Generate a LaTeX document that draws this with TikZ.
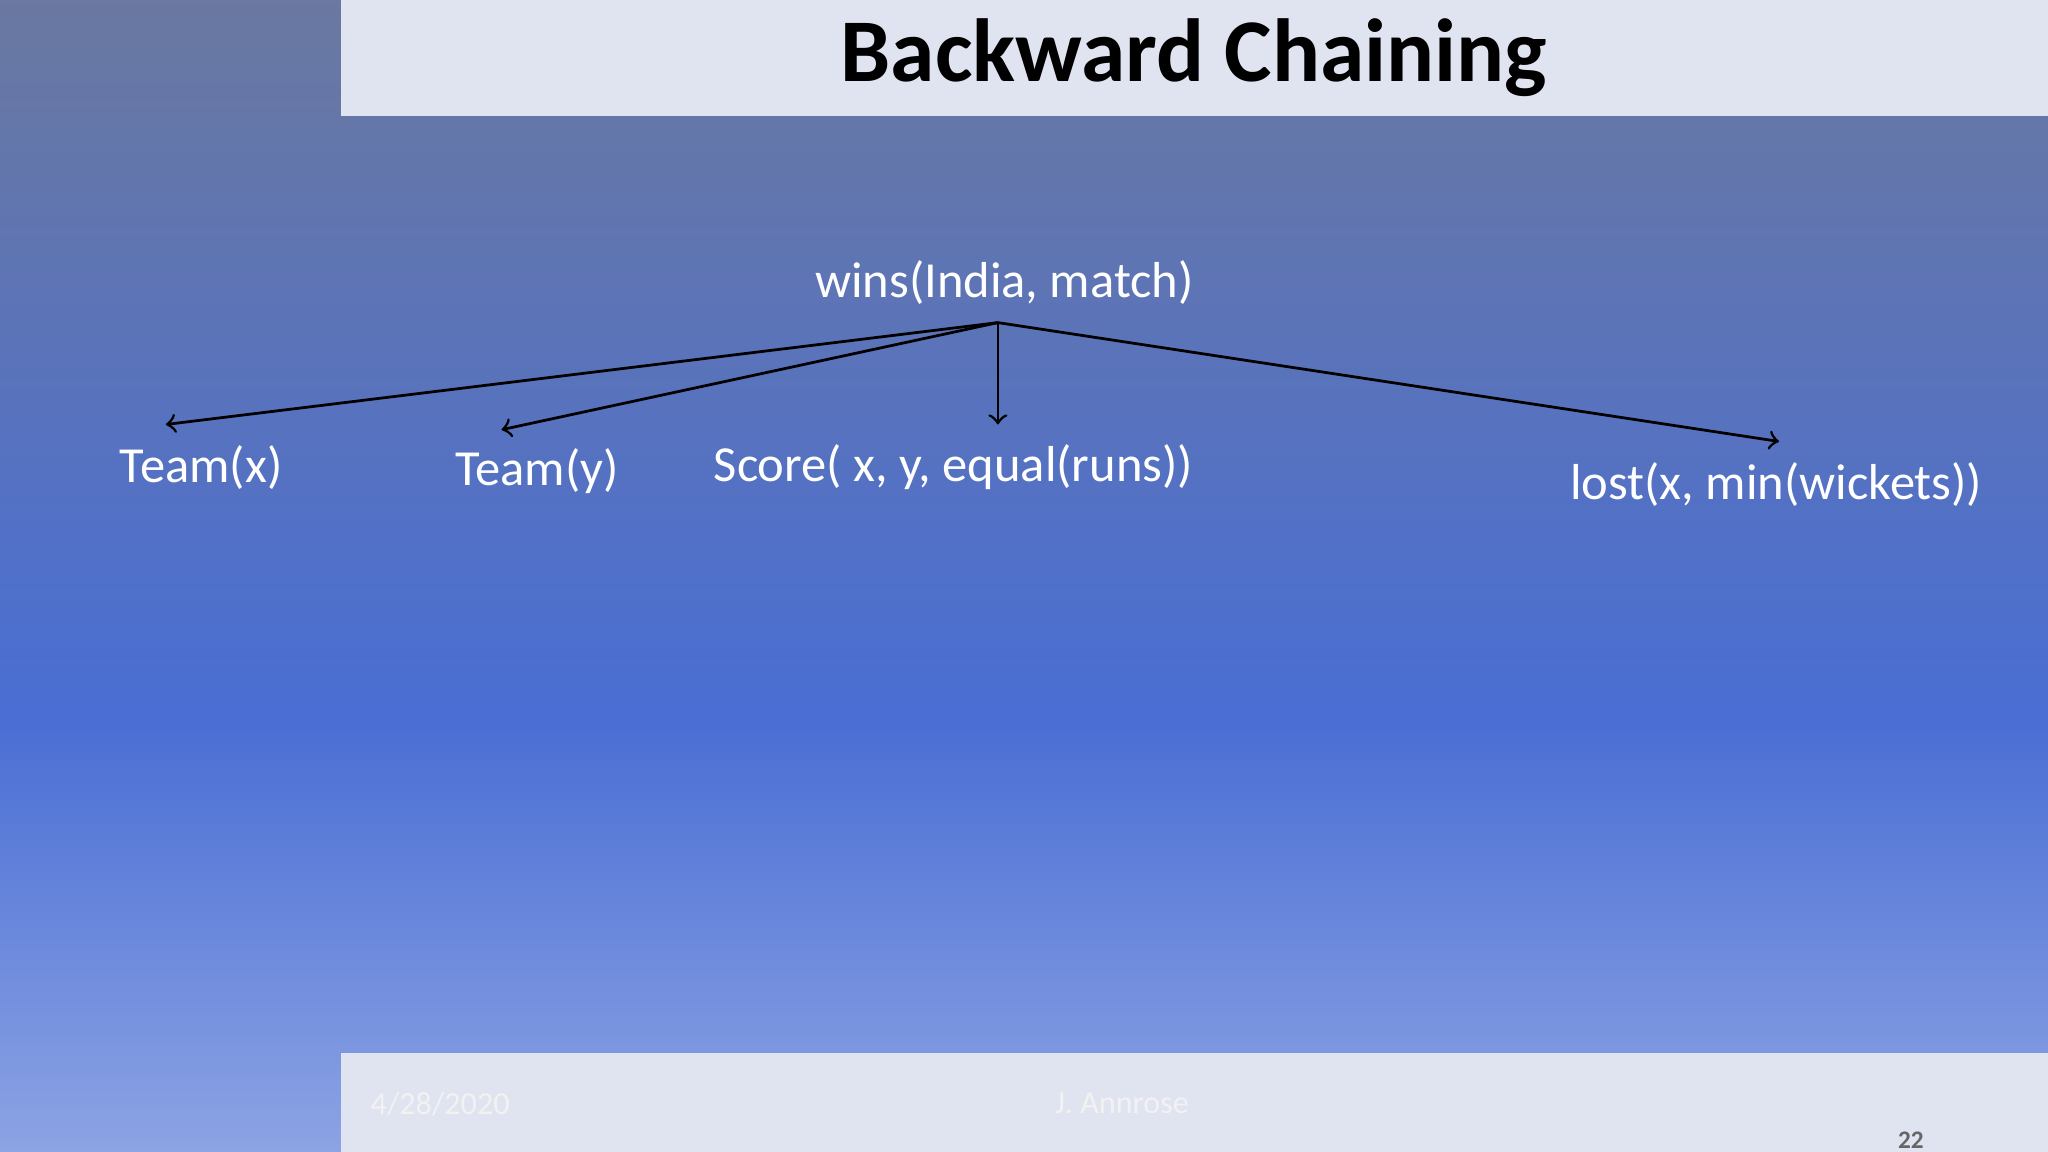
\documentclass[tikz,border=0pt]{standalone}
\usepackage{fontspec}
\setmainfont{Carlito}
\definecolor{cin}{RGB}{82,122,228}
\definecolor{cout}{RGB}{24,40,120}
\definecolor{bar}{RGB}{224,228,240}
\begin{document}
\begin{tikzpicture}[x=0.01cm,y=-0.01cm,
  lbl/.style={text=white,font=\fontsize{11pt}{13pt}\selectfont,inner sep=0pt},
  arr/.style={->,line width=0.6pt,black}]
\useasboundingbox (0,0) rectangle (1568,882);
\fill[cout] (0,0) rectangle (1568,882);
\shade[inner color=cin,outer color=cout,middle color=cin!85!cout] (-150,-350) rectangle (1650,1450);
\fill[bar] (261,0) rectangle (1568,89);
\fill[bar] (261,806) rectangle (1568,882);
\node[font=\bfseries\fontsize{19.5pt}{24pt}\selectfont] (title) at (914,44) {Backward Chaining};
\node[lbl] (wins) at (769,216) {wins(India, match)};
\coordinate (src) at (764,247);
\node[lbl] (t1) at (154,358) {Team(x)};
\node[lbl] (t2) at (411,361) {Team(y)};
\node[lbl] (sc) at (730,358) {Score( x, y, equal(runs))};
\node[lbl] (lo) at (1360,371) {lost(x, min(wickets))};
\coordinate (e1) at (127,325);
\coordinate (e2) at (384,329);
\coordinate (e3) at (764,325);
\coordinate (e4) at (1362,338);
\draw[arr] (src) -- (e1);
\draw[arr] (src) -- (e2);
\draw[arr] (src) -- (e3);
\draw[arr] (src) -- (e4);
\node[text=white!90!gray,font=\fontsize{7pt}{8pt}\selectfont] (date) at (337,845) {4/28/2020};
\node[text=white!90!gray,font=\fontsize{7pt}{8pt}\selectfont] (auth) at (859,845) {J. Annrose};
\node[text=gray!80!black,font=\bfseries\fontsize{5.5pt}{7pt}\selectfont] (pg) at (1463,873) {22};
\end{tikzpicture}
\end{document}
